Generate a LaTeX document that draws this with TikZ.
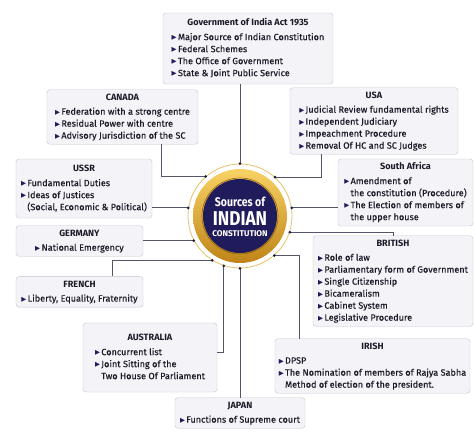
\documentclass[tikz,border=0pt]{standalone}
\usepackage{fontspec}
\usepackage{graphicx}
\setmainfont{Fira Sans}[UprightFeatures={FakeBold=0.35}]
\newfontfamily\symfont{DejaVu Sans}
\usetikzlibrary{calc,positioning}

\definecolor{boxfill}{HTML}{F4F4F8}
\definecolor{boxline}{HTML}{C2C2CE}
\definecolor{linec}{HTML}{55556A}
\definecolor{dotc}{HTML}{1E1E3C}
\definecolor{navy}{HTML}{201C5C}
\definecolor{goldlight}{HTML}{F8D264}
\definecolor{golddark}{HTML}{BF8418}
\definecolor{ringline}{HTML}{E6C26A}
\definecolor{txt}{HTML}{1C1C28}

\newcommand{\bul}{\raisebox{0.4pt}{\symfont\fontsize{6.5}{6}\selectfont\textcolor{navy}{▶}}\hspace{1.3pt}}
\newcommand{\hang}{\hphantom{\bul}}
\newcommand{\entry}[2]{\begin{tabular}{@{}l@{}}\multicolumn{1}{@{}c@{}}{\textbf{#1}}\\[2.5pt] #2\end{tabular}}

\begin{document}
\begin{tikzpicture}[
  x=1pt,y=-1pt,
  country/.style={draw=boxline,fill=boxfill,rounded corners=3pt,text=txt,
    font=\fontsize{9.1}{12}\selectfont,inner sep=2pt},
  hub/.style={circle,draw=ringline,line width=0.8pt,fill=white,minimum size=104pt,inner sep=0pt},
  conn/.style={draw=linec,line width=0.8pt}
]
  \useasboundingbox (0,0) rectangle (474,440);

  % centre
  \node[hub] (src) at (240,216) {};
  \shade[top color=goldlight,bottom color=golddark] (src.center) circle (47);
  \draw[golddark!75!black,line width=0.6pt] (src.center) circle (38);
  \fill[navy] (src.center) circle (37);
  \node[text=white,inner sep=0pt] (srctop) at (240,201.5)
    {\scalebox{0.84}[1]{\fontsize{12.5}{12.5}\selectfont\bfseries Sources of}};
  \node[text=white,inner sep=0pt] (srcmid) at (240,218.5)
    {\scalebox{0.86}[1]{\fontsize{20}{20}\selectfont\bfseries INDIAN}};
  \node[text=white,inner sep=0pt] (srcbot) at (240,234)
    {\fontsize{8.3}{9}\selectfont\bfseries CONSTITUTION};

  % sources
  \node[country,minimum width=170pt,minimum height=71pt] (goi) at (248,48.5)
    {\entry{Government of India Act 1935}{%
     \bul Major Source of Indian Constitution\\
     \bul Federal Schemes\\
     \bul The Office of Government\\
     \bul State \& Joint Public Service}};
  \node[country,minimum width=151pt,minimum height=52pt] (canada) at (122.5,117)
    {\entry{CANADA}{%
     \bul Federation with a strong centre\\
     \bul Residual Power with centre\\
     \bul Advisory Jurisdiction of the SC}};
  \node[country,minimum width=168pt,minimum height=66pt] (usa) at (374,121)
    {\entry{USA}{%
     \bul Judicial Review fundamental rights\\
     \bul Independent Judiciary\\
     \bul Impeachment Procedure\\
     \bul Removal Of HC and SC Judges}};
  \node[country,minimum width=136pt,minimum height=59pt] (ussr) at (84,188.5)
    {\entry{USSR}{%
     \bul Fundamental Duties\\
     \bul Ideas of Justices\\
     \hang(Social, Economic \& Political)}};
  \node[country,minimum width=135pt,minimum height=67pt] (safrica) at (405.5,192.5)
    {\entry{South Africa}{%
     \bul Amendment of\\
     \hang the constitution (Procedure)\\
     \bul The Election of members of\\
     \hang the upper house}};
  \node[country,minimum width=127pt,minimum height=28pt] (germany) at (79.5,241)
    {\entry{GERMANY}{%
     \bul National Emergency}};
  \node[country,minimum width=127pt,minimum height=28pt,below=20pt of germany] (french)
    {\entry{FRENCH}{%
     \bul Liberty, Equality, Fraternity}};
  \node[country,minimum width=160pt,minimum height=88pt] (british) at (393,281)
    {\entry{BRITISH}{%
     \bul Role of law\\
     \bul Parliamentary form of Government\\
     \bul Single Citizenship\\
     \bul Bicameralism\\
     \bul Cabinet System\\
     \bul Legislative Procedure}};
  \node[country,minimum width=134pt,minimum height=69pt] (australia) at (150,357.5)
    {\entry{AUSTRALIA}{%
     \bul Concurrent list\\
     \bul Joint Sitting of the\\
     \hang Two House Of Parliament}};
  \node[country,minimum width=195pt,minimum height=52pt] (irish) at (372.5,366)
    {\entry{IRISH}{%
     \bul DPSP\\
     \bul The Nomination of members of Rajya Sabha\\
     \hang Method of election of the president.}};
  \node[country,minimum width=130pt,minimum height=28pt] (japan) at (240,413)
    {\entry{JAPAN}{%
     \bul Functions of Supreme court}};

  % connectors
  \draw[conn] (src.90) -- (src.90 |- goi.south);
  \draw[conn] (src.131) -| ($(canada.south west)!0.755!(canada.south east)$);
  \draw[conn] (src.48) -| ($(usa.south west)!0.185!(usa.south east)$);
  \draw[conn] (src.171) -- (src.171 -| ussr.east);
  \draw[conn] (src.9) -- (src.9 -| safrica.west);
  \draw[conn] (src.208) -- (src.208 -| germany.east);
  \draw[conn] (src.238) -| ($(french.north west)!0.756!(french.north east)$);
  \draw[conn] (src.-18) -| (british.north);
  \draw[conn] (src.-49) -| ($(irish.north west)!0.128!(irish.north east)$);
  \draw[conn] (src.252) |- ($(australia.north east)!0.42!(australia.south east)$);
  \draw[conn] (src.270) -- (src.270 |- japan.north);
  \foreach \a in {90,131,48,171,9,208,238,-18,-49,252,270}
    \fill[dotc] (src.\a) circle (1.5);
\end{tikzpicture}
\end{document}
